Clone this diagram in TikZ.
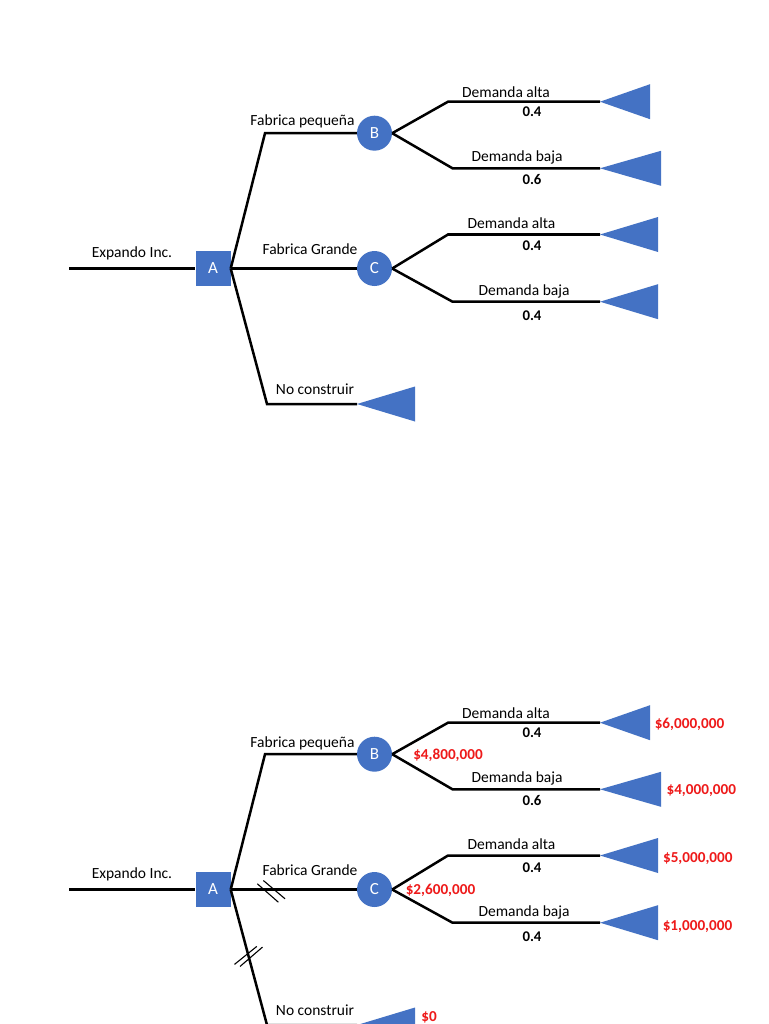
\documentclass[tikz,border=0pt]{standalone}
\usepackage{fontspec}
\setmainfont{Carlito}
\definecolor{nodeblue}{HTML}{4472C4}
\definecolor{valred}{HTML}{EE1A1A}
\tikzset{
  branch/.style={line width=2.5pt, line join=miter},
  decision/.style={rectangle, fill=nodeblue, minimum size=35pt, inner sep=0pt, text=white, font=\fontsize{17}{17}\selectfont},
  chance/.style={circle, fill=nodeblue, minimum size=35pt, inner sep=0pt, text=white, font=\fontsize{17}{17}\selectfont},
  lbl/.style={font=\fontsize{15.5}{16}\selectfont, inner sep=0pt, anchor=base},
  prob/.style={font=\bfseries\fontsize{14.8}{15}\selectfont, inner sep=0pt, anchor=base},
  val/.style={font=\bfseries\fontsize{15.2}{16}\selectfont, text=valred, inner sep=0pt, anchor=base},
  hash/.style={line width=1.1pt}
}
\newcommand\leaf[2]{\fill[nodeblue] (#1) -- ++(#2,-17.5) -- ++(0,35) -- cycle;}
\newcommand\drawtree{%
  \coordinate (s) at (69,268.5);
  \node[decision] (A) at (213,268.5) {A};
  \node[chance] (B) at (374.5,133.2) {B};
  \node[chance] (C) at (374.5,268.5) {C};
  \coordinate (k1) at (265,133.2);
  \coordinate (k2) at (267,404);
  \coordinate (t5) at (357,404);
  \coordinate (kBa) at (448,101.7);
  \coordinate (t1) at (600,101.7);
  \coordinate (kBb) at (452.5,168.3);
  \coordinate (t2) at (600,168.3);
  \coordinate (kCa) at (448,234.5);
  \coordinate (t3) at (600,234.5);
  \coordinate (kCb) at (452.5,301.7);
  \coordinate (t4) at (600,301.7);
  \draw[branch] (s) -- (A.west);
  \draw[branch] (A.east) -- (k1) -- (B.west);
  \draw[branch] (A.east) -- (C.west);
  \draw[branch] (A.east) -- (k2) -- (t5);
  \draw[branch] (B.east) -- (kBa) -- (t1);
  \draw[branch] (B.east) -- (kBb) -- (t2);
  \draw[branch] (C.east) -- (kCa) -- (t3);
  \draw[branch] (C.east) -- (kCb) -- (t4);
  \leaf{t1}{50}
  \leaf{t2}{61}
  \leaf{t3}{58}
  \leaf{t4}{58}
  \leaf{t5}{58}
  \node[lbl] (lexp) at (132,257) {Expando Inc.};
  \node[lbl] (lfp) at (302.5,126) {Fabrica pequeña};
  \node[lbl] (lfg) at (310,254.3) {Fabrica Grande};
  \node[lbl] (lnc) at (315,394) {No construir};
  \node[lbl] (lda1) at (506,97.7) {Demanda alta};
  \node[prob] (p1) at (532,116.8) {0.4};
  \node[lbl] (ldb1) at (517,161.7) {Demanda baja};
  \node[prob] (p2) at (532,184.3) {0.6};
  \node[lbl] (lda2) at (511.5,228.3) {Demanda alta};
  \node[prob] (p3) at (532,251) {0.4};
  \node[lbl] (ldb2) at (524,295) {Demanda baja};
  \node[prob] (p4) at (532,320.7) {0.4};
}
\begin{document}
\begin{tikzpicture}[x=1pt,y=-1pt]
  \useasboundingbox (0,0) rectangle (768,1024);
  \fill[white] (0,0) rectangle (768,1024);
  \clip (0,0) rectangle (768,1024);
  \begin{scope}[name prefix=top-]
    \drawtree
  \end{scope}
  \begin{scope}[yshift=-621pt, name prefix=bot-]
    \drawtree
    \path (A.east) -- (C.west) coordinate[pos=0.32] (h1);
    \draw[hash] (h1) ++(-13.7,-5.7) -- ++(21,18.4);
    \draw[hash] (h1) ++(-7.7,-9) -- ++(21.7,18.3);
    \path (A.east) -- (k2) coordinate[pos=0.49] (h2);
    \draw[hash] (h2) ++(-14,8.5) -- ++(22.3,-18);
    \draw[hash] (h2) ++(-8.4,10.5) -- ++(22.4,-19.3);
  \end{scope}
  \node[val] (vB) at (448,759.3) {\$4,800,000};
  \node[val] (vC) at (440.5,894.3) {\$2,600,000};
  \node[val] (v1) at (689.5,728.3) {\$6,000,000};
  \node[val] (v2) at (701.3,794) {\$4,000,000};
  \node[val] (v3) at (697.8,862.7) {\$5,000,000};
  \node[val] (v4) at (697.5,930) {\$1,000,000};
  \node[val] (v5) at (429,1021.5) {\$0};
\end{tikzpicture}
\end{document}
